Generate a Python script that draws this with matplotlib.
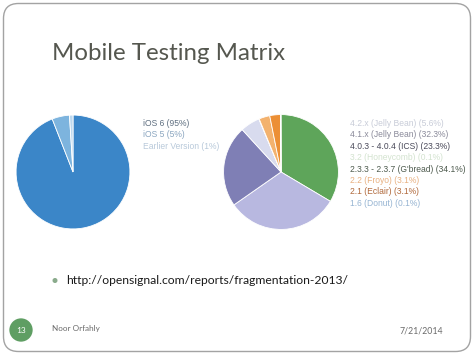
#!/usr/bin/env python3
"""Slide 13: Mobile Testing Matrix - iOS and Android version share pies."""

import matplotlib

matplotlib.use("Agg")
import matplotlib.patches as patches
import matplotlib.pyplot as plt

W, H = 474, 355

# iOS version share (legend order == slice order, clockwise from 12 o'clock)
ios_labels = ["iOS 6 (95%)", "iOS 5 (5%)", "Earlier Version (1%)"]
ios_values = [95, 5, 1]
ios_colors = ["#3b86c8", "#7db4de", "#bcd8ef"]
ios_text_colors = ["#5f6f80", "#8ba6c0", "#b8c9da"]

# Android version share, in legend order
android_labels = [
    "4.2.x (Jelly Bean) (5.6%)",
    "4.1.x (Jelly Bean) (32.3%)",
    "4.0.3 - 4.0.4 (ICS) (23.3%)",
    "3.2 (Honeycomb) (0.1%)",
    "2.3.3 - 2.3.7 (G'bread) (34.1%)",
    "2.2 (Froyo) (3.1%)",
    "2.1 (Eclair) (3.1%)",
    "1.6 (Donut) (0.1%)",
]
android_values = [5.6, 32.3, 23.3, 0.1, 34.1, 3.1, 3.1, 0.1]
android_colors = ["#d8dbee", "#b8b8e0", "#7f7fb5", "#cde3c8",
                  "#5ea55a", "#f3b26e", "#ec8f35", "#a8c8e8"]
android_text_colors = ["#c8ccd8", "#8a8a9a", "#4a4a5a", "#d3e3cf",
                       "#4d5a4d", "#e8b080", "#b0683a", "#96b4d2"]
# slices are drawn clockwise from 12 o'clock in this order (legend indices)
android_slice_order = [4, 1, 2, 0, 7, 5, 6, 3]


def px_axes(fig, cx, cy, r):
    """Axes square around a pie centre given in slide pixels (y down)."""
    return fig.add_axes([(cx - r) / W, (H - cy - r) / H, 2 * r / W, 2 * r / H])


def draw_pie(ax, values, colors):
    ax.pie(values, colors=colors, startangle=90, counterclock=False,
           wedgeprops=dict(edgecolor="white", linewidth=0.6))
    ax.set_xlim(-1.01, 1.01)
    ax.set_ylim(-1.01, 1.01)
    ax.set_aspect("equal")
    ax.axis("off")


def main():
    fig = plt.figure(figsize=(W / 100, H / 100), dpi=100)
    bg = fig.add_axes([0, 0, 1, 1])
    bg.set_xlim(0, W)
    bg.set_ylim(H, 0)
    bg.axis("off")

    # slide frame
    frame = patches.FancyBboxPatch((3.5, 3.5), W - 7, H - 7,
                                   boxstyle="round,pad=0,rounding_size=15",
                                   facecolor="white", edgecolor="#a3a3a3", linewidth=1.0)
    bg.add_patch(frame)

    bg.text(52, 53, "Mobile Testing Matrix", fontsize=17.25, family="Lato",
            color="#55574f", va="center", ha="left")

    # legends
    font_legend = dict(fontsize=6.15, family="Liberation Sans", va="center", ha="left")
    for i, (lab, col) in enumerate(zip(ios_labels, ios_text_colors)):
        bg.text(143, 123.5 + i * 11.3, lab, color=col, **font_legend)
    for i, (lab, col) in enumerate(zip(android_labels, android_text_colors)):
        bg.text(350, 123.5 + i * 11.4, lab, color=col, **font_legend)

    # bullet + link
    bg.add_patch(patches.Circle((55, 280.5), 1.8, color="#8aab8c"))
    bg.text(66, 280.5, "http://opensignal.com/reports/fragmentation-2013/",
            fontsize=8.7, family="Lato", color="#1a1a1a", va="center", ha="left")

    # footer
    bg.add_patch(patches.Circle((21, 330), 12.5, facecolor="#5f9e63",
                                edgecolor="white", linewidth=1.2))
    bg.text(21, 330.5, "13", fontsize=6, color="white", ha="center", va="center",
            family="Lato")
    bg.text(52, 329, "Noor Orfahly", fontsize=5.9, family="Lato",
            color="#6a6a6a", va="center", ha="left")
    bg.text(443, 331, "7/21/2014", fontsize=6.3, family="Lato",
            color="#6a6a6a", va="center", ha="right")

    # pies
    draw_pie(px_axes(fig, 73, 172, 57.5), ios_values, ios_colors)
    draw_pie(px_axes(fig, 281, 172, 58),
             [android_values[i] for i in android_slice_order],
             [android_colors[i] for i in android_slice_order])

    fig.savefig("out.png", dpi=100)
    plt.close(fig)


if __name__ == "__main__":
    main()
